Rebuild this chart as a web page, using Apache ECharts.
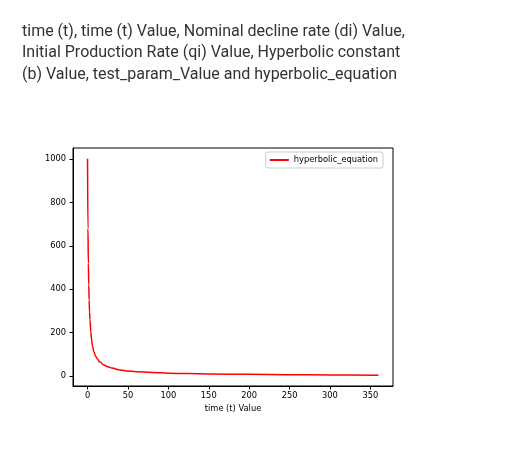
<!DOCTYPE html>
<html>
<head>
<meta charset="utf-8">
<script src="https://cdn.jsdelivr.net/npm/echarts@6/dist/echarts.min.js"></script>
<style>
  html, body { margin: 0; padding: 0; background: #fff; }
  #main { width: 526px; height: 462px; }
</style>
</head>
<body>
<div id="main"></div>
<script>
// values
var timeValues = [0, 0.5, 1, 1.5, 2, 2.5, 3, 4, 5, 6, 8, 10, 12, 15, 20, 25, 30, 40, 50, 60, 80, 100, 125, 150, 200, 250, 300, 360]
var rateValues = [1000, 680, 520, 420, 350, 295, 260, 205, 170, 140, 112, 92, 80, 66, 52, 44, 38, 29, 24, 21, 17, 14, 12, 10.5, 8.5, 7, 6, 5]
var xTicks = [0, 50, 100, 150, 200, 250, 300, 350]
var yTicks = [0, 200, 400, 600, 800, 1000]

var titleText = 'time (t), time (t) Value, Nominal decline rate (di) Value,\n' +
  'Initial Production Rate (qi) Value, Hyperbolic constant\n' +
  '(b) Value, test_param_Value and hyperbolic_equation'

var points = []
for (var i = 0; i < timeValues.length; i++) {
  points.push([timeValues[i], rateValues[i]])
}

var tickFont = { fontFamily: 'DejaVu Sans', fontSize: 8.3, color: '#000' }

var chart = echarts.init(document.getElementById('main'))
chart.setOption({
  animation: false,
  title: {
    text: titleText,
    left: 17,
    top: 16,
    textStyle: {
      fontFamily: 'Roboto, sans-serif',
      fontSize: 16,
      lineHeight: 21.5,
      fontWeight: 'normal',
      color: '#333'
    }
  },
  legend: {
    data: ['hyperbolic_equation'],
    right: 143,
    top: 152,
    itemWidth: 19,
    itemHeight: 2,
    itemGap: 6,
    padding: [4, 5, 4, 3],
    borderColor: '#ccc',
    borderWidth: 1,
    borderRadius: 2,
    textStyle: tickFont
  },
  grid: {
    left: 73,
    right: 133,
    top: 148,
    bottom: 76,
    show: true,
    borderColor: '#000',
    borderWidth: 1
  },
  xAxis: {
    type: 'value',
    min: -18,
    max: 378,
    name: 'time (t) Value',
    nameLocation: 'middle',
    nameGap: 19,
    nameTextStyle: tickFont,
    axisLine: { onZero: false, lineStyle: { color: '#000', width: 1 } },
    axisTick: { show: true, length: 3.5, customValues: xTicks, lineStyle: { color: '#000' } },
    axisLabel: Object.assign({ customValues: xTicks, margin: 6, formatter: function (v) { return String(v) } }, tickFont),
    splitLine: { show: false }
  },
  yAxis: {
    type: 'value',
    min: -45,
    max: 1050,
    axisLine: { show: true, onZero: false, lineStyle: { color: '#000', width: 1 } },
    axisTick: { show: true, length: 3.5, customValues: yTicks, lineStyle: { color: '#000' } },
    axisLabel: Object.assign({ customValues: yTicks, margin: 7, formatter: function (v) { return String(v) } }, tickFont),
    splitLine: { show: false }
  },
  series: [{
    name: 'hyperbolic_equation',
    type: 'line',
    data: points,
    symbol: 'none',
    smooth: 0.4,
    smoothMonotone: 'x',
    lineStyle: { color: '#ff0000', width: 1.5 },
    itemStyle: { color: '#ff0000' }
  }]
})
</script>
</body>
</html>
